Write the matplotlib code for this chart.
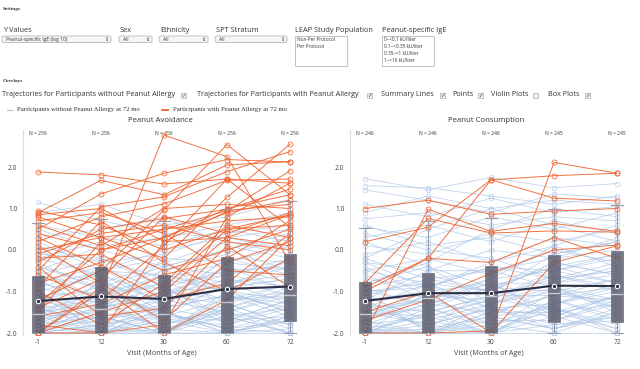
import matplotlib
matplotlib.use('Agg')
import matplotlib.pyplot as plt
from matplotlib.patches import Rectangle, FancyBboxPatch
from matplotlib.transforms import blended_transform_factory

# ---------------- data ----------------
visits = ['-1', '12', '30', '60', '72']
panel_titles = ['Peanut Avoidance', 'Peanut Consumption']
n_avoid = [256, 256, 256, 256, 256]
n_cons = [246, 246, 246, 245, 245]
yticks = [-2.0, -1.0, 0.0, 1.0, 2.0]

# box-plot summaries (log10 peanut-specific IgE)
avoid_q1 = [-2.0, -2.0, -2.0, -2.0, -1.70]
avoid_q3 = [-0.63, -0.42, -0.60, -0.16, -0.10]
avoid_med = [-1.54, -1.42, -1.54, -1.25, -1.08]
avoid_mean = [-1.23, -1.12, -1.18, -0.94, -0.88]
avoid_lo = [-2.0, -2.0, -2.0, -2.0, -2.0]
avoid_hi = [0.66, 0.75, 0.70, 1.00, 1.18]

cons_q1 = [-2.0, -1.97, -2.0, -1.73, -1.73]
cons_q3 = [-0.76, -0.55, -0.38, -0.12, -0.02]
cons_med = [-1.54, -1.15, -1.12, -1.03, -1.05]
cons_mean = [-1.23, -1.04, -1.04, -0.86, -0.87]
cons_lo = [-2.0, -2.0, -2.0, -2.0, -2.0]
cons_hi = [0.53, 0.70, 0.77, 1.00, 1.08]

# individual trajectories, values at visits -1, 12, 30, 60, 72
avoid_no_allergy = [
    [1.15, 0.7, 0.4, 0.3, 0.5], [0.9, 1.1, 0.6, 0.8, 1.2], [0.6, 0.3, 0.1, 0.5, 0.2],
    [0.3, 0.5, 0.8, 0.1, -0.2], [0.1, -0.3, -0.1, 0.4, 0.6], [-0.2, 0.2, -0.5, -0.1, 0.3],
    [-0.4, -0.8, -0.3, 0.2, -0.1], [-0.6, -0.2, -0.9, -0.5, -0.4], [-0.8, -1.1, -0.6, -0.9, -0.7],
    [-1.0, -0.6, -1.3, -0.4, -1.0], [-1.1, -1.4, -1.0, -1.2, -0.8], [-1.2, -0.9, -1.6, -0.8, -1.3],
    [-1.3, -1.7, -1.2, -1.5, -1.1], [-1.4, -1.2, -2.0, -1.0, -1.5], [-1.5, -2.0, -1.4, -1.7, -1.2],
    [-1.6, -1.5, -1.8, -1.3, -1.8], [-1.7, -2.0, -1.5, -2.0, -1.6], [-1.8, -1.6, -2.0, -1.4, -1.9],
    [-1.9, -2.0, -1.7, -1.8, -1.4], [-2.0, -1.8, -2.0, -1.6, -2.0], [-2.0, -2.0, -1.9, -2.0, -1.7],
    [-2.0, -1.3, -1.1, -0.7, -0.9], [-2.0, -2.0, -2.0, -1.1, -1.3], [-2.0, -2.0, -2.0, -2.0, -2.0],
    [-1.5, -1.0, -0.7, -0.3, -0.5], [-0.9, -0.5, 0.0, 0.3, 0.0], [0.5, 0.0, -0.4, -0.6, -0.3],
    [-0.3, -1.0, -1.5, -1.9, -2.0], [-1.1, -1.9, -1.3, -0.2, -0.6], [-1.8, -1.1, -0.8, -1.2, -1.1],
    [-0.7, -1.5, -0.2, -1.5, -1.8], [-1.3, -0.4, -1.0, -0.9, -0.2], [0.0, -0.7, -1.8, -1.4, -1.0],
    [-1.6, -2.0, -0.4, 0.0, 0.4], [-2.0, -0.7, -1.5, -1.9, -1.5], [-1.2, -1.6, -2.0, -2.0, -1.9],
    [-0.5, 0.1, 0.3, 0.6, 0.9], [-1.9, -1.4, -1.1, -1.3, -0.8], [-1.4, -1.8, -1.6, -1.7, -1.6],
    [-0.1, -0.2, -0.7, -1.0, -1.2], [-2.0, -1.5, -1.2, -0.8, -0.6], [-1.7, -1.2, -1.9, -1.5, -1.0],
    [-1.0, -1.7, -1.4, -1.1, -1.4], [-0.5, -1.2, -0.8, -0.6, -0.9], [-1.6, -0.8, -1.2, -0.2, -0.3],
    [-2.0, -2.0, -1.6, -1.2, -1.0], [-1.3, -2.0, -1.0, -1.8, -1.3], [-0.8, -0.4, -1.4, -1.1, -1.6],
    [-1.9, -1.7, -1.3, -0.7, -1.1], [-1.1, -1.0, -0.5, -0.8, -0.4], [-2.0, -1.6, -2.0, -1.3, -1.8],
    [-1.5, -1.3, -0.9, -1.6, -2.0], [-0.2, -0.6, -1.1, -0.4, -0.8], [-1.8, -2.0, -1.4, -0.9, -0.7],
    [-1.2, -0.5, -0.6, -1.0, -1.5], [-2.0, -1.0, -0.9, -1.7, -1.2], [-0.6, -0.9, -1.7, -2.0, -1.7],
    [-1.4, -1.9, -2.0, -1.4, -0.9], [-1.7, -1.4, -1.0, -0.6, -0.2], [-0.9, -1.3, -1.9, -1.6, -1.4],
    [0.2, -0.5, -0.2, -0.3, 0.1], [-2.0, -1.8, -1.5, -2.0, -1.6], [-1.0, -2.0, -1.7, -1.5, -2.0],
    [-1.6, -1.1, -1.5, -1.9, -1.7], [-0.4, -0.9, -0.4, 0.0, -0.5],
]
avoid_allergy = [
    [1.88, 1.81, 1.59, 1.71, 1.61], [0.9, 1.68, 1.33, 2.05, 2.13], [-2.0, -1.0, 2.77, 2.25, -0.3],
    [0.5, 1.35, 1.85, 2.18, 2.12], [-0.5, 1.04, 1.28, 1.89, 2.37], [0.2, 0.8, 1.11, 1.68, 1.71],
    [-1.2, -0.5, 0.96, 2.54, 1.33], [0.8, 0.3, -0.2, 1.27, 2.55], [-0.3, 0.5, 0.76, 0.98, 1.47],
    [-1.8, -2.0, 0.2, 0.93, 1.91], [0.4, 0.0, 0.5, 0.7, 0.8], [-0.8, -0.3, 0.3, 1.0, 1.33],
    [0.95, 0.6, 0.0, 0.5, 0.6], [-2.0, -1.5, -1.0, 0.3, 0.85], [-1.5, 0.2, -0.5, 0.0, 0.5],
    [0.1, -0.8, -1.7, -0.3, 0.2], [-1.0, -1.8, -0.8, 0.6, 0.3], [-0.1, 0.4, 0.6, 0.2, 0.0],
    [0.7, 0.9, 0.4, -0.5, -0.6], [-2.0, -2.0, -1.8, 0.8, 1.61], [-0.6, -1.2, 0.1, 1.71, 0.55],
    [0.3, -0.4, -1.2, -0.8, 0.4], [-1.4, -0.7, 0.8, 0.4, 0.9], [-0.9, 0.7, -0.3, -1.0, -0.2],
    [0.6, 0.1, 1.0, 1.1, 1.0], [-1.6, -1.3, -0.6, -0.2, 0.7], [-0.4, -1.6, -1.4, 0.1, -0.9],
    [0.0, 0.3, 0.5, 0.95, 1.1], [-2.0, -0.9, -2.0, -1.2, 0.3], [-0.2, -0.1, -0.9, 0.5, 0.85],
    [0.85, 1.0, 0.2, 0.3, 0.1], [-1.3, 0.0, 0.3, 0.9, 1.2],
]
cons_no_allergy = [
    [1.72, 1.45, 1.75, 1.5, 1.6], [1.55, 1.5, 1.3, 1.1, 1.3], [1.45, 1.2, 0.9, 1.35, 1.25],
    [1.1, 0.8, 1.25, 0.9, 1.05], [0.75, 0.9, 0.6, 0.8, 0.7], [0.55, 0.3, 0.8, 0.5, 0.9],
    [0.3, 0.6, 0.2, 0.7, 0.4], [0.1, -0.1, 0.4, 0.2, 0.5], [-0.1, 0.2, -0.3, 0.3, 0.1],
    [-0.3, -0.5, 0.0, -0.2, 0.3], [-0.5, -0.2, -0.6, 0.0, -0.3], [-0.7, -0.9, -0.4, -0.5, -0.1],
    [-0.9, -0.6, -1.0, -0.3, -0.6], [-1.0, -1.3, -0.8, -0.8, -0.4], [-1.2, -1.0, -1.3, -0.6, -0.9],
    [-1.3, -1.5, -1.1, -1.1, -0.7], [-1.4, -1.2, -1.6, -0.9, -1.2], [-1.5, -1.8, -1.4, -1.3, -1.0],
    [-1.6, -1.4, -1.9, -1.0, -1.4], [-1.7, -2.0, -1.5, -1.5, -1.1], [-1.8, -1.6, -2.0, -1.2, -1.6],
    [-1.9, -2.0, -1.7, -1.7, -1.3], [-2.0, -1.7, -2.0, -1.4, -1.8], [-2.0, -2.0, -1.8, -2.0, -1.5],
    [-2.0, -1.9, -2.0, -1.6, -2.0], [-2.0, -2.0, -2.0, -1.8, -1.7], [-2.0, -2.0, -2.0, -2.0, -2.0],
    [-1.1, -0.7, -0.5, -0.2, 0.0], [-0.4, -1.1, -1.2, -1.4, -1.9], [0.4, 0.0, -0.2, -0.7, -0.5],
    [-1.6, -1.1, -0.7, 0.1, 0.6], [-0.8, -0.3, 0.5, 1.0, 0.8], [-2.0, -1.4, -0.9, -0.4, -0.8],
    [-1.3, -1.9, -1.6, -1.9, -1.4], [0.9, 1.3, 1.0, 1.2, 1.1], [-0.2, 0.5, 1.0, 0.6, 0.2],
    [-1.8, -1.3, -1.5, -1.1, -1.2], [-1.0, -0.8, -1.4, -1.6, -1.1], [-1.5, -1.6, -1.2, -0.5, -0.2],
    [0.2, -0.4, -0.9, -1.0, -0.7], [-2.0, -1.5, -1.1, -0.7, -0.5], [-1.7, -1.1, -1.8, -1.3, -0.9],
    [-1.1, -1.7, -1.3, -1.0, -1.3], [-0.6, -1.2, -0.7, -0.5, -0.8], [-1.4, -0.8, -1.0, -0.1, 0.2],
    [-2.0, -2.0, -1.5, -1.1, -0.9], [-1.2, -1.9, -0.9, -1.7, -1.2], [-0.8, -0.4, -1.3, -0.9, -1.5],
    [-1.9, -1.6, -1.2, -0.6, -1.0], [-1.0, -0.9, -0.4, -0.7, -0.3], [-2.0, -1.5, -2.0, -1.2, -1.7],
    [-1.5, -1.2, -0.8, -1.5, -1.9], [-0.2, -0.7, -1.0, -0.3, -0.6], [-1.8, -2.0, -1.3, -0.8, -0.6],
    [-1.2, -0.5, -0.5, -0.9, -1.4], [-2.0, -1.0, -0.8, -1.6, -1.1], [-0.5, -0.8, -1.6, -1.9, -1.6],
    [-1.4, -1.8, -2.0, -1.3, -0.8], [-1.7, -1.3, -0.9, -0.4, -0.1], [-0.9, -1.4, -1.8, -1.5, -1.3],
    [0.6, 0.1, 0.3, -0.1, 0.2], [-2.0, -1.8, -1.4, -1.9, -1.5], [-1.0, -2.0, -1.6, -1.4, -2.0],
    [-1.6, -1.0, -1.4, -1.8, -1.6], [-0.3, -0.9, -0.3, 0.1, -0.4],
]
cons_allergy = [
    [-2.0, -2.0, -1.95, 2.11, 1.85], [-1.0, -0.2, 1.69, 1.25, 1.18], [1.0, 1.2, 0.86, 0.94, 1.0],
    [-2.0, 0.98, 0.45, 0.64, 0.45], [-0.8, 0.76, 0.41, 0.46, 0.43], [-1.70, -1.2, -0.56, 0.0, 0.12],
    [0.2, 0.55, 1.69, 1.79, 1.85], [-0.9, -0.2, -0.3, 0.3, -0.2], [-1.5, -1.0, -2.0, -0.3, 0.1],
]

# ---------------- figure ----------------
W, H = 640, 369
fig = plt.figure(figsize=(6.4, 3.69), dpi=100)
fig.patch.set_facecolor('white')

UI = ['Open Sans', 'DejaVu Sans']
SERIF = ['Liberation Serif', 'DejaVu Serif']
TXT = '#333333'


def fx(x):
    return x / W


def fy(y):
    return 1 - y / H


def label(x, y, s, size=5.0, family=UI, **kw):
    kw.setdefault('color', TXT)
    kw.setdefault('va', 'center')
    fig.text(fx(x), fy(y), s, fontsize=size, family=family, **kw)


def box(x0, y0, x1, y1, rounded=False, ec='#b8b8b8', fc='white', lw=0.6):
    if rounded:
        p = FancyBboxPatch((fx(x0), fy(y1)), fx(x1 - x0), fy(y0) - fy(y1),
                           boxstyle='round,pad=0,rounding_size=0.004',
                           transform=fig.transFigure, ec=ec, fc=fc, lw=lw)
    else:
        p = Rectangle((fx(x0), fy(y1)), fx(x1 - x0), fy(y0) - fy(y1),
                      transform=fig.transFigure, ec=ec, fc=fc, lw=lw)
    fig.patches.append(p)


def checkbox(x, y, checked=True):
    box(x - 2.5, y - 2.5, x + 2.5, y + 2.5, ec='#aaaaaa', fc='#eeeeee', lw=0.5)
    if checked:
        fig.text(fx(x), fy(y), '\u2713', fontsize=4, family='DejaVu Sans',
                 ha='center', va='center', color='#333333')


# Settings block
label(3, 9, 'Settings', size=3.8, family=SERIF, weight='bold')
for x, s in [(3, 'Y Values'), (120, 'Sex'), (160, 'Ethnicity'), (216, 'SPT Stratum'),
             (295, 'LEAP Study Population'), (382, 'Peanut-specific IgE')]:
    label(x, 30, s, size=5.3)
for x0, x1, s in [(2, 111, 'Peanut-specific IgE (log 10)'), (119, 152, 'All'),
                  (159, 208, 'All'), (215, 287, 'All')]:
    box(x0, 36, x1, 42.5, rounded=True, fc='#f6f6f6')
    label(x0 + 4, 39.3, s, size=3.6)
    fig.text(fx(x1 - 4), fy(39.3), '\u21d5', fontsize=3.6, family='DejaVu Sans',
             ha='center', va='center', color='#333333')
box(295, 36, 347, 66)
for i, s in enumerate(['Non-Per Protocol', 'Per Protocol']):
    label(297, 39.5 + i * 7, s, size=3.4)
box(382, 36, 434, 66)
for i, s in enumerate(['0\u2013<0.1 kU/liter', '0.1\u2013<0.35 kU/liter',
                       '0.35\u2013<1 kU/liter', '1\u2013<10 kU/liter']):
    label(384, 39.5 + i * 7, s, size=3.4)

# Overlays block
label(3, 81, 'Overlays', size=3.8, family=SERIF, weight='bold')
overlay_items = [(2, 'Trajectories for Participants without Peanut Allergy', 183, True),
                 (197, 'Trajectories for Participants with Peanut Allergy', 369, True),
                 (381, 'Summary Lines', 442, True), (452, 'Points', 480, True),
                 (491, 'Violin Plots', 535, False), (548, 'Box Plots', 587, True)]
for x, s, cx, chk in overlay_items:
    label(x, 95, s, size=5.2)
    checkbox(cx, 95.5, chk)

# legend line
BLUE = '#abc5e6'
ORANGE = '#f0622d'
fig.lines.append(plt.Line2D([fx(7), fx(13)], [fy(110), fy(110)], color='#bbbbbb', lw=0.8,
                            transform=fig.transFigure))
label(17, 110, 'Participants without Peanut Allergy at 72 mo', size=4.9, family=SERIF)
fig.lines.append(plt.Line2D([fx(162), fx(168)], [fy(110), fy(110)], color=ORANGE, lw=1.3,
                            transform=fig.transFigure))
label(173, 110, 'Participants with Peanut Allergy at 72 mo', size=4.9, family=SERIF)

# ---------------- panels ----------------
panels = [
    (23, panel_titles[0], n_avoid, avoid_no_allergy, avoid_allergy,
     avoid_q1, avoid_q3, avoid_med, avoid_mean, avoid_lo, avoid_hi, 160),
    (350, panel_titles[1], n_cons, cons_no_allergy, cons_allergy,
     cons_q1, cons_q3, cons_med, cons_mean, cons_lo, cons_hi, 486),
]
ax_top, ax_bot = 130, 335
ppu = 63.0
for (x_left, title, ns, blue_rows, orange_rows, q1, q3, med, mean, lo, hi, tx) in panels:
    x_right = 300 if x_left == 23 else 627
    ax = fig.add_axes([fx(x_left), fy(ax_bot), fx(x_right - x_left), fy(ax_top) - fy(ax_bot)])
    pos = list(range(len(visits)))
    ax.set_xlim(-15 / ppu, (x_right - x_left - 15) / ppu)
    ax.set_ylim((250 - ax_bot) / 41.5, (250 - ax_top) / 41.5)

    for row in blue_rows:
        ax.plot(pos, row, color=BLUE, lw=0.55, alpha=0.8, zorder=1)
        ax.plot(pos, row, ls='none', marker='o', ms=3.4, mfc='none', mec=BLUE,
                mew=0.5, alpha=0.8, zorder=2)
    for row in orange_rows:
        ax.plot(pos, row, color=ORANGE, lw=0.7, alpha=0.9, zorder=3)
        ax.plot(pos, row, ls='none', marker='o', ms=3.6, mfc='none', mec=ORANGE,
                mew=0.6, alpha=0.9, zorder=4)

    stats = [dict(med=med[i], q1=q1[i], q3=q3[i], whislo=lo[i], whishi=hi[i],
                  fliers=[]) for i in pos]
    bp = ax.bxp(stats, positions=pos, widths=0.175, patch_artist=True,
                showfliers=False, capwidths=0.2, manage_ticks=False,
                boxprops=dict(facecolor='#5f5f70', edgecolor='#5f5f70', alpha=0.85, lw=0.5),
                medianprops=dict(color='#c8c8d2', lw=1.0),
                whiskerprops=dict(color='#9c9cab', lw=0.8),
                capprops=dict(color='#9c9cab', lw=0.8))
    for art in bp['boxes'] + bp['medians'] + bp['whiskers'] + bp['caps']:
        art.set_zorder(5)

    ax.plot(pos, mean, color='#2b2f45', lw=1.5, zorder=6, marker='o', ms=3.2,
            mfc='#2b2f45', mec='white', mew=0.8)

    ax.set_xticks(pos)
    ax.set_xticklabels(visits)
    ax.set_yticks(yticks)
    ax.set_yticklabels(['%.1f' % v for v in yticks])
    ax.tick_params(length=0, labelsize=4.8, colors='#444444', pad=4)
    ax.tick_params(axis='x', pad=3)
    for t in ax.get_xticklabels() + ax.get_yticklabels():
        t.set_family(UI)
    for s in ['top', 'right', 'bottom']:
        ax.spines[s].set_visible(False)
    ax.spines['left'].set_color('#dddddd')
    ax.spines['left'].set_linewidth(0.8)
    ax.set_xlabel('Visit (Months of Age)', fontsize=5.2, family=UI, color='#444444', labelpad=3)

    tr = blended_transform_factory(ax.transData, fig.transFigure)
    for i, n in enumerate(ns):
        ax.text(i, fy(133), 'N = %d' % n, transform=tr, fontsize=3.6, family=UI,
                ha='center', va='center', color='#333333')
    label(tx, 120, title, size=5.6, ha='center')

fig.savefig('out.png', dpi=100, facecolor='white')
